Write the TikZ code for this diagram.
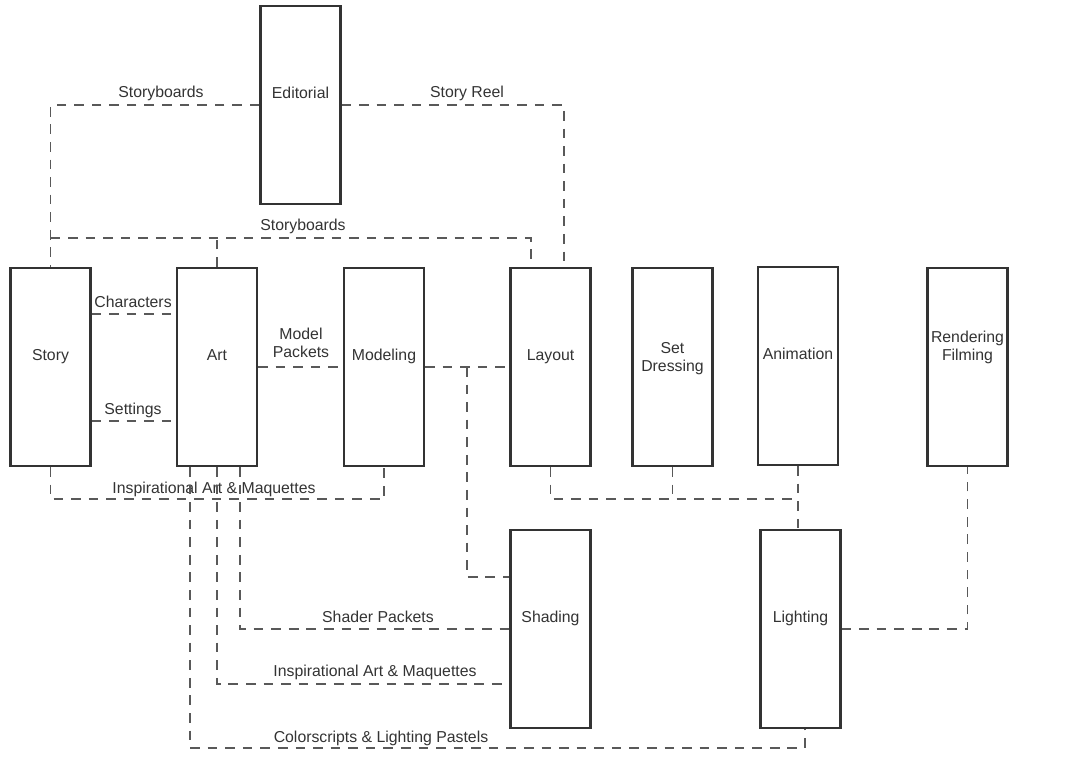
\documentclass[tikz,border=0pt]{standalone}
\usepackage{fontspec}
\setmainfont{Liberation Sans}
\begin{document}
\begin{tikzpicture}[x=0.02cm,y=-0.02cm,font=\fontsize{9}{10.5}\selectfont,text=black!80,
  stage/.style={draw=black!80,line width=1.2pt,minimum width=1.6cm,minimum height=3.96cm,inner sep=0pt,align=center,text depth=0.48cm},
  flow/.style={draw=black!65,line width=0.8pt,dash pattern=on 5.5pt off 4.5pt},
  tag/.style={inner sep=1pt,align=center}]
\useasboundingbox (0,0) rectangle (1071,771);
% stages
\node[stage] (editorial) at (300.5,105) {Editorial};
\node[stage] (story) at (50.5,367) {Story};
\node[stage] (art) at (217,367) {Art};
\node[stage] (modeling) at (384,367) {Modeling};
\node[stage] (layout) at (550.5,367) {Layout};
\node[stage,text depth=0.4cm] (setdress) at (672.5,367) {Set\\Dressing};
\node[stage] (animation) at (798,366) {Animation};
\node[stage,text depth=0.84cm] (rendering) at (967.5,367) {Rendering\\Filming};
\node[stage] (shading) at (550.5,629) {Shading};
\node[stage] (lighting) at (800.5,629) {Lighting};
\coordinate (sbbus) at (0,238);
\coordinate (lowbus) at (0,499);
% storyboards and story reel
\draw[flow] (editorial.west) -| (story.north);
\draw[flow] (editorial.east) -| ([xshift=0.27cm]layout.north);
\draw[flow] (story.north |- sbbus) -| ([xshift=-0.39cm]layout.north);
\draw[flow] (art.north) -- (art.north |- sbbus);
\node[tag] (sb1) at (161,93) {Storyboards};
\node[tag] (reel) at (467,93) {Story Reel};
\node[tag] (sb2) at (303,226) {Storyboards};
% story <-> art <-> modeling
\draw[flow] ([yshift=1.06cm]story.east) -- ([yshift=1.06cm]art.west);
\draw[flow] ([yshift=-1.08cm]story.east) -- ([yshift=-1.08cm]art.west);
\draw[flow] (art.east) -- (modeling.west);
\draw[flow] (modeling.east) -- (layout.west);
\draw[flow] ([xshift=0.84cm]modeling.east) |- ([yshift=1.04cm]shading.west);
\node[tag] (chars) at (133,302) {Characters};
\node[tag] (sets) at (133,410) {Settings};
\node[tag] (packets) at (301,343) {Model\\Packets};
\draw[flow] (story.south) |- (lowbus -| modeling.south) -- (modeling.south);
\node[tag] (insp1) at (214,489) {Inspirational Art \& Maquettes};
% art -> shading, lighting
\draw[flow] ([xshift=0.46cm]art.south) |- (shading.west);
\draw[flow] (art.south) |- ([yshift=-1.1cm]shading.west);
\draw[flow] ([xshift=-0.54cm]art.south) -- ++(0,281) -| ([xshift=0.09cm]lighting.south);
\node[tag] (shader) at (378,617) {Shader Packets};
\node[tag] (insp2) at (375,672) {Inspirational Art \& Maquettes};
\node[tag] (colors) at (381,738) {Colorscripts \& Lighting Pastels};
% layout, set dressing, animation -> lighting -> rendering
\draw[flow] (layout.south) |- (lowbus -| animation.south);
\draw[flow] (setdress.south) -- (setdress.south |- lowbus);
\draw[flow] (animation.south) -- (animation.south |- lighting.north);
\draw[flow] (lighting.east) -| (rendering.south);
\end{tikzpicture}
\end{document}
